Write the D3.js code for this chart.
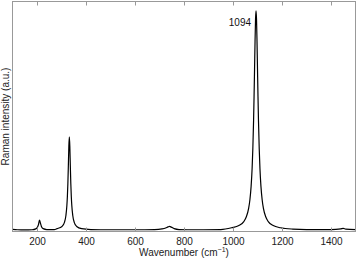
<!DOCTYPE html>
<html><head><meta charset="utf-8">
<script src="https://cdn.jsdelivr.net/npm/d3@7"></script>
<style>body{margin:0;background:#fff}svg{display:block;font-family:"Liberation Sans",Arial,sans-serif}</style>
</head><body><svg id="c" width="358" height="260"></svg>
<script>
const wavenumber = [100,120,150,180,195,202,206,210,214,218,225,240,270,282,302,312,318,322,324,326,328,330,332,334,336,338,340,342,346,352,362,382,420,500,600,680,710,725,735,741,748,760,780,850,950,994,1024,1044,1054,1064,1069,1074,1078,1081,1084,1086,1088,1090,1092,1094,1096,1098,1100,1102,1104,1107,1110,1114,1119,1124,1134,1144,1164,1194,1244,1300,1380,1420,1440,1450,1460,1500];
const intensity = [1.0,0.8,0.7,0.8,1.2,2.0,3.1,5.2,3.8,2.3,1.3,0.9,0.9,1.3,2.3,4.2,7.3,12.0,16.0,21.9,30.1,38.9,43.2,38.9,30.1,21.9,16.0,12.0,7.3,4.2,2.3,1.3,0.9,0.8,0.8,0.9,1.2,1.6,2.1,2.3,2.0,1.3,0.9,0.8,0.9,1.7,2.7,4.5,6.6,10.7,14.5,20.7,28.8,37.9,50.7,61.7,74.2,86.9,96.9,100.7,96.9,86.9,74.2,61.7,50.7,37.9,28.8,20.7,14.5,10.7,6.6,4.5,2.7,1.7,1.1,0.9,0.9,1.0,1.2,1.4,1.1,0.9];
const xTicks = [200,400,600,800,1000,1200,1400];
const peakLabel = {wn:1094, text:"1094"};

const svg = d3.select("#c");
const L=12.5, R=355.5, T=1.5, B=231.5;
const x = d3.scaleLinear().domain([100,1500]).range([L,R]);
const y = d3.scaleLinear().domain([0,105]).range([B,T]);
const data = wavenumber.map((w,i)=>[w,intensity[i]]);

svg.append("path").datum(data)
  .attr("fill","none").attr("stroke","#000").attr("stroke-width",1.2)
  .attr("d", d3.line().x(d=>x(d[0])).y(d=>y(d[1])).curve(d3.curveMonotoneX));

// box
svg.append("rect").attr("x",L).attr("y",T).attr("width",R-L).attr("height",B-T)
  .attr("fill","none").attr("stroke","#999").attr("stroke-width",1);

const axB = svg.append("g").attr("transform",`translate(0,${B})`)
  .call(d3.axisBottom(x).tickValues(xTicks).tickSize(-4).tickPadding(6).tickFormat(d3.format("d")));
axB.select(".domain").remove();
axB.selectAll("line").attr("stroke","#999");
axB.selectAll("text").attr("font-size",10).attr("fill","#222").attr("font-family","Liberation Sans, Arial, sans-serif");

const axT = svg.append("g").attr("transform",`translate(0,${T})`)
  .call(d3.axisTop(x).tickValues(xTicks).tickSize(-4).tickFormat(""));
axT.select(".domain").remove();
axT.selectAll("line").attr("stroke","#999");

const xt = svg.append("text").attr("x",(L+R)/2).attr("y",256).attr("text-anchor","middle")
  .attr("font-size",10).attr("fill","#222");
xt.append("tspan").text("Wavenumber (cm");
xt.append("tspan").attr("dy",-4).attr("font-size",7).text("−1");
xt.append("tspan").attr("dy",4).text(")");

svg.append("text").attr("transform",`translate(9,${(T+B)/2}) rotate(-90)`).attr("text-anchor","middle")
  .attr("font-size",10).attr("fill","#222").text("Raman intensity (a.u.)");

svg.append("text").attr("x",x(peakLabel.wn)-5).attr("y",26).attr("text-anchor","end")
  .attr("font-size",10).attr("fill","#111").text(peakLabel.text);
</script></body></html>
